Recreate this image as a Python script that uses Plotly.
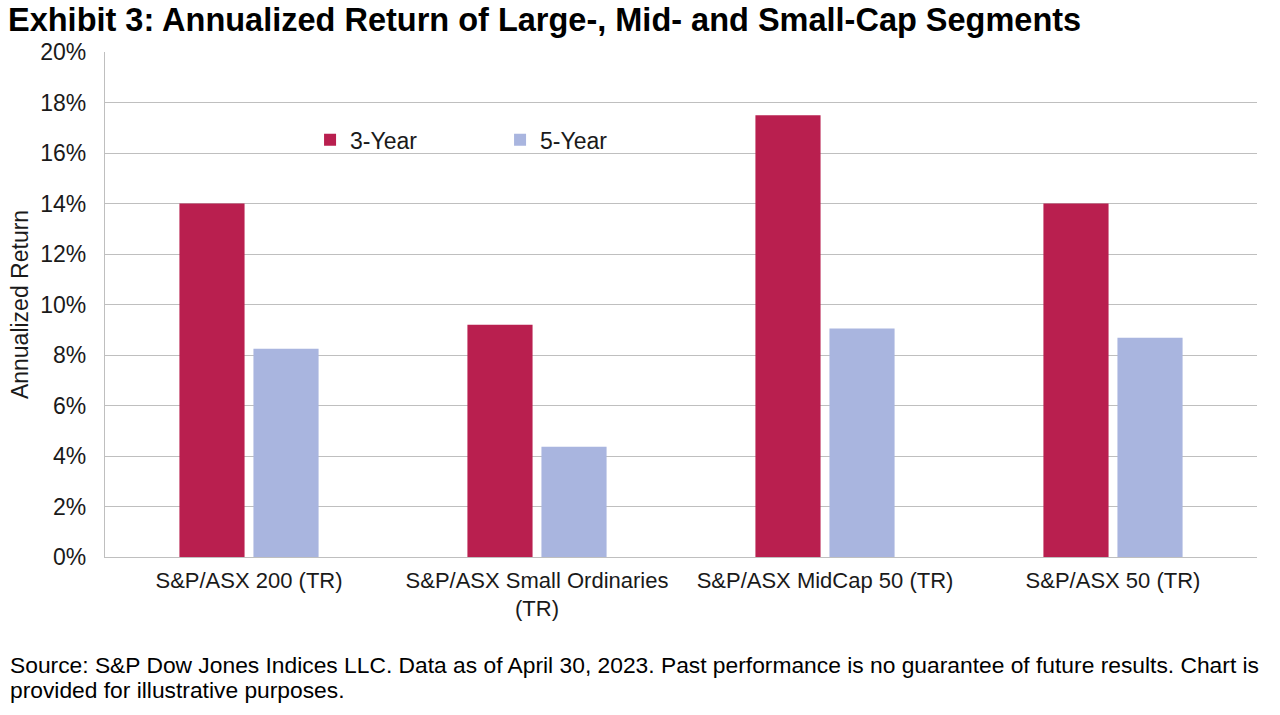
import plotly.graph_objects as go

categories = ["S&P/ASX 200 (TR)", "S&P/ASX Small Ordinaries<br>(TR)", "S&P/ASX MidCap 50 (TR)", "S&P/ASX 50 (TR)"]
series_names = ["3-Year", "5-Year"]
three_year = [0.1400, 0.0920, 0.1750, 0.1400]
five_year = [0.0825, 0.0437, 0.0905, 0.0868]
y_ticks = [0, 0.02, 0.04, 0.06, 0.08, 0.10, 0.12, 0.14, 0.16, 0.18, 0.20]
source_lines = [
    "Source: S&P Dow Jones Indices LLC. Data as of April 30, 2023. Past performance is no guarantee of future results. Chart is",
    "provided for illustrative purposes.",
]

FONT = "Liberation Sans, Arial, sans-serif"
TXT = "#1a1a1a"

fig = go.Figure()
fig.add_trace(go.Bar(name=series_names[0], x=categories, y=three_year,
                     marker=dict(color="#B91F4F", line=dict(width=0))))
fig.add_trace(go.Bar(name=series_names[1], x=categories, y=five_year,
                     marker=dict(color="#A9B5DF", line=dict(width=0))))

fig.update_layout(
    width=1280, height=715,
    barmode="group", bargap=0.486, bargroupgap=0.12,
    paper_bgcolor="white", plot_bgcolor="white",
    margin=dict(l=105, r=23, t=52, b=158),
    font=dict(family=FONT, size=23, color=TXT),
    title=dict(text="<b>Exhibit 3: Annualized Return of Large-, Mid- and Small-Cap Segments</b>",
               xref="container", x=0.00625, xanchor="left", y=0.973, yanchor="middle",
               font=dict(family=FONT, size=32.5, color="#000000")),
    legend=dict(orientation="h", x=0.178, y=0.826, xanchor="left", yanchor="middle",
                entrywidth=145, font=dict(size=23, color=TXT),
                bgcolor="rgba(0,0,0,0)"),
    showlegend=True,
)
fig.update_yaxes(range=[0, 0.20], tickvals=y_ticks, tickformat=".0%",
                 showgrid=True, gridcolor="#BFBFBF", gridwidth=1.3,
                 showline=True, linecolor="#BFBFBF", linewidth=1.3,
                 zeroline=False, ticks="", ticklen=0, ticklabelstandoff=13,
                 title=dict(text="Annualized Return", font=dict(size=23, color=TXT), standoff=5),
                 tickfont=dict(size=23, color=TXT))
fig.update_xaxes(showline=True, linecolor="#BFBFBF", linewidth=1.3, ticklabelstandoff=3,
                 tickfont=dict(size=22, color=TXT), ticks="")

for i, (line, yy) in enumerate(zip(source_lines, [-0.2139, -0.2634])):
    fig.add_annotation(text=line, xref="paper", yref="paper", x=-0.0842, y=yy,
                       xanchor="left", yanchor="middle", align="left", showarrow=False,
                       font=dict(size=22.8, color="#000000"))

fig.write_html("out.html", config={"displayModeBar": False},
               post_script="document.body.style.margin='0';document.body.style.overflow='hidden';")
